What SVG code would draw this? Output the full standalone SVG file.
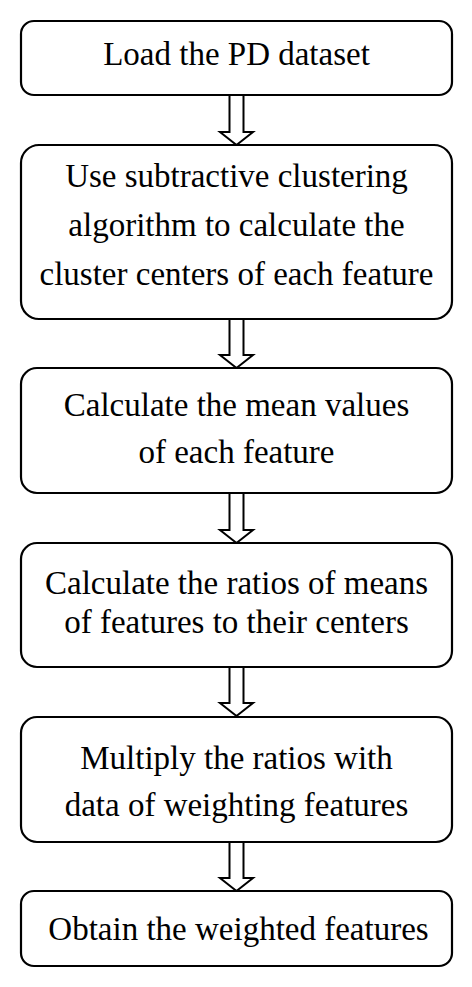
<svg xmlns="http://www.w3.org/2000/svg" width="472" height="987" viewBox="0 0 472 987">
<style>
.box{fill:#fff;stroke:#000;stroke-width:2.2}
.arr{fill:#fff;stroke:#000;stroke-width:2;stroke-linejoin:miter}
text{font-family:"Liberation Serif","Times New Roman",serif;font-size:33px;fill:#000;text-anchor:middle}
</style>
<rect width="472" height="987" fill="#fff"/>
<g id="connectors">
<polygon class="arr" points="229.5,95 229.5,132 220,132 236.5,145 253,132 243.5,132 243.5,95"/>
<polygon class="arr" points="229.5,319 229.5,355 220,355 236.5,368 253,355 243.5,355 243.5,319"/>
<polygon class="arr" points="229.5,493 229.5,530 220,530 236.5,543 253,530 243.5,530 243.5,493"/>
<polygon class="arr" points="229.5,667 229.5,703 220,703 236.5,716 253,703 243.5,703 243.5,667"/>
<polygon class="arr" points="229.5,842 229.5,878 220,878 236.5,891 253,878 243.5,878 243.5,842"/>
</g>
<g id="n1"><rect class="box" x="21" y="21" width="431" height="74" rx="13"/><text x="236.5" y="65">Load the PD dataset</text></g>
<g id="n2"><rect class="box" x="21" y="145" width="431" height="174" rx="18"/><text x="236.5" y="187">Use subtractive clustering</text><text x="236.5" y="235.5">algorithm to calculate the</text><text x="236.5" y="285">cluster centers of each feature</text></g>
<g id="n3"><rect class="box" x="21" y="368" width="431" height="125" rx="16"/><text x="236.5" y="416">Calculate the mean values</text><text x="236.5" y="463">of each feature</text></g>
<g id="n4"><rect class="box" x="21" y="543" width="431" height="124" rx="16"/><text x="236.5" y="594">Calculate the ratios of means</text><text x="236.5" y="633">of features to their centers</text></g>
<g id="n5"><rect class="box" x="21" y="717" width="431" height="125" rx="16"/><text x="236.5" y="769">Multiply the ratios with</text><text x="236.5" y="816">data of weighting features</text></g>
<g id="n6"><rect class="box" x="21" y="891" width="431" height="75" rx="13"/><text x="238.5" y="940">Obtain the weighted features</text></g>
</svg>
